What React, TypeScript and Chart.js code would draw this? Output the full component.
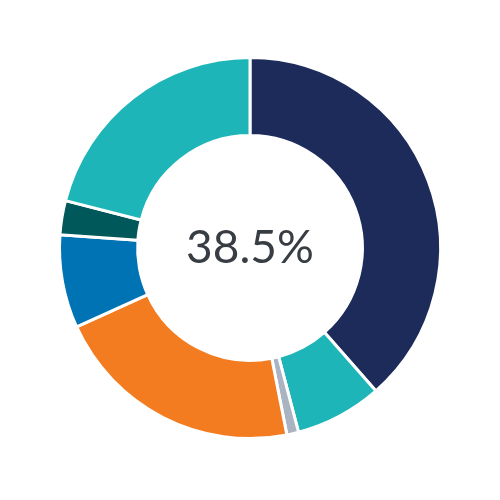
import React, { useEffect, useRef } from "react";
import { Chart, registerables } from "chart.js";

Chart.register(...registerables);

const labels = ["A", "B", "C", "D", "E", "F", "G"];
const values = [38.5, 7.4, 1.0, 21.3, 7.9, 2.9, 21.0];
const colors = ["#1d2b5b", "#1db5b8", "#a9b3c1", "#f47c20", "#0073b5", "#01585a", "#1db5b8"];
const centerLabel = "38.5%";

const centerText = {
  id: "centerText",
  afterDraw(chart: Chart) {
    const meta = chart.getDatasetMeta(0);
    const arc = meta.data[0] as any;
    if (!arc) return;
    const ctx = chart.ctx;
    ctx.save();
    ctx.font = "46px Lato";
    ctx.fillStyle = "#383d43";
    ctx.textAlign = "center";
    ctx.textBaseline = "middle";
    ctx.fillText(centerLabel, arc.x, arc.y);
    ctx.restore();
  },
};

export default function App() {
  const chartRef = useRef<HTMLCanvasElement | null>(null);

  useEffect(() => {
    let chartInstance: Chart<"doughnut"> | null = null;
    if (chartRef.current) {
      chartInstance = new Chart(chartRef.current, {
        type: "doughnut",
        data: {
          labels,
          datasets: [
            {
              data: values,
              backgroundColor: colors,
              borderColor: "#ffffff",
              borderWidth: 3,
            },
          ],
        },
        options: {
          animation: false,
          responsive: false,
          cutout: "59%",
          layout: { padding: { top: 56, bottom: 60, left: 58, right: 58 } },
          plugins: {
            legend: { display: false },
            tooltip: { enabled: false },
          },
        },
        plugins: [centerText],
      });
    }
    return () => {
      if (chartInstance) chartInstance.destroy();
    };
  }, []);

  return (
    <div style={{ position: "fixed", left: 0, top: 0, width: 500, height: 500, background: "#fff" }}>
      <canvas ref={chartRef} width={500} height={500}></canvas>
    </div>
  );
}
